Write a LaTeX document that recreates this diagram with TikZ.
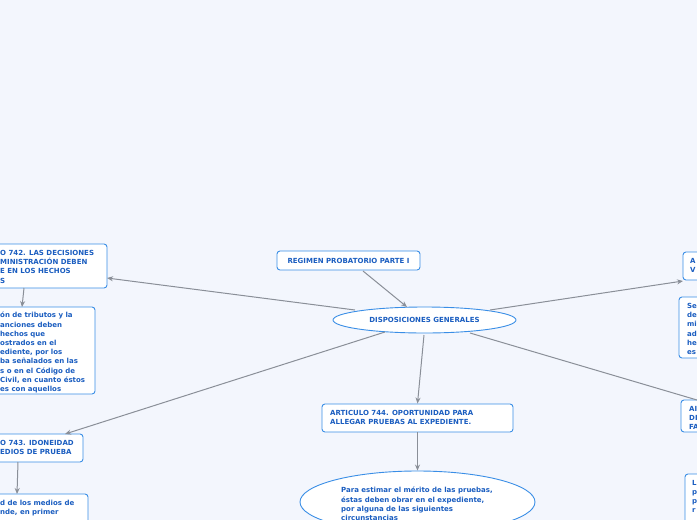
\documentclass[tikz,border=0pt]{standalone}
\usepackage{fontspec}
\setmainfont{DejaVu Sans}
\usetikzlibrary{shapes.geometric,arrows.meta}
\definecolor{bg}{HTML}{F3F6FD}
\definecolor{bord}{HTML}{3A8EE6}
\definecolor{txt}{HTML}{1A5DC0}
\definecolor{edge}{HTML}{8A8F98}
\begin{document}
\begin{tikzpicture}[x=1pt,y=-1pt,
  box/.style={draw=bord,line width=0.9pt,rounded corners=3pt,fill=white},
  lbl/.style={text=txt,font=\bfseries\fontsize{7}{9.2}\selectfont,align=left,inner sep=0pt},
  conn/.style={draw=edge,line width=1pt,-{Stealth[length=6pt,width=5pt]}},
  plain/.style={draw=edge,line width=1pt}]
\useasboundingbox (0,0) rectangle (697,520);
\clip (0,0) rectangle (697,520);
\fill[bg] (0,0) rectangle (697,520);
% nodes
\node[box,minimum width=143pt,minimum height=19pt] (reg) at (348.5,260.5) {};
\node[lbl] at (reg) {REGIMEN PROBATORIO PARTE I};
\node[ellipse,draw=bord,line width=0.9pt,fill=white,minimum width=183pt,minimum height=26pt,inner sep=0pt] (disp) at (424.5,320) {};
\node[lbl] at (disp) {DISPOSICIONES GENERALES};
\draw[box] (-40,244) rectangle (107,288); \coordinate (b1) at (107,278); \coordinate (b1b) at (24,288);
\node[lbl,anchor=north west] at (0,250) {O 742. LAS DECISIONES\\MINISTRACIÓN DEBEN\\E EN LOS HECHOS\\S};
\draw[box] (-40,307) rectangle (95,394); \coordinate (b2) at (22,307);
\node[lbl,anchor=north west] at (0,312) {ón de tributos y la\\anciones deben\\ hechos que\\ostrados en el\\ediente, por los\\ba señalados en las\\s o en el Código de\\Civil, en cuanto éstos\\es con aquellos};
\draw[box] (-40,434) rectangle (83,462); \coordinate (b3) at (65,434); \coordinate (b3b) at (18,462);
\node[lbl,anchor=north west] at (0,440) {O 743. IDONEIDAD\\EDIOS DE PRUEBA};
\draw[box] (-40,494) rectangle (88,560); \coordinate (b4) at (17,494);
\node[lbl,anchor=north west] at (0,500) {d de los medios de\\nde, en primer};
\node[box,minimum width=191pt,minimum height=28pt] (a744) at (417.5,418) {};
\node[lbl,anchor=north west] at (330,410) {ARTICULO 744. OPORTUNIDAD PARA\\ALLEGAR PRUEBAS AL EXPEDIENTE.};
\node[ellipse,draw=bord,line width=0.9pt,fill=white,minimum width=235pt,minimum height=62pt,inner sep=0pt] (est) at (417.5,502) {};
\node[lbl,anchor=north west] at (341,487) {Para estimar el mérito de las pruebas,\\éstas deben obrar en el expediente,\\por alguna de las siguientes\\circunstancias};
\draw[box] (683,252) rectangle (740,280); \coordinate (r1) at (683,281);
\node[lbl,anchor=north west] at (690,258) {A\\V};
\draw[box] (679,297) rectangle (740,358);
\node[lbl,anchor=north west] at (687,303) {Se\\de\\mi\\ad\\he\\es};
\draw[box] (681,400) rectangle (740,432); \coordinate (r3) at (697,400);
\node[lbl,anchor=north west] at (689,406) {AI\\DI\\FA};
\draw[box] (685,474) rectangle (740,560);
\node[lbl,anchor=north west] at (692,480) {L\\p\\p\\r};
% connectors
\draw[conn] (363,271) -- (407,307);
\draw[conn] (355,310) -- (b1);
\draw[conn] (b1b) -- (b2);
\draw[conn] (385,332) -- (b3);
\draw[conn] (b3b) -- (b4);
\draw[conn] (424,335) -- (a744.north);
\draw[conn] (a744.south) -- (est.north);
\draw[conn] (490,310) -- (r1);
\draw[plain] (470,333) -- (r3);
\end{tikzpicture}
\end{document}
